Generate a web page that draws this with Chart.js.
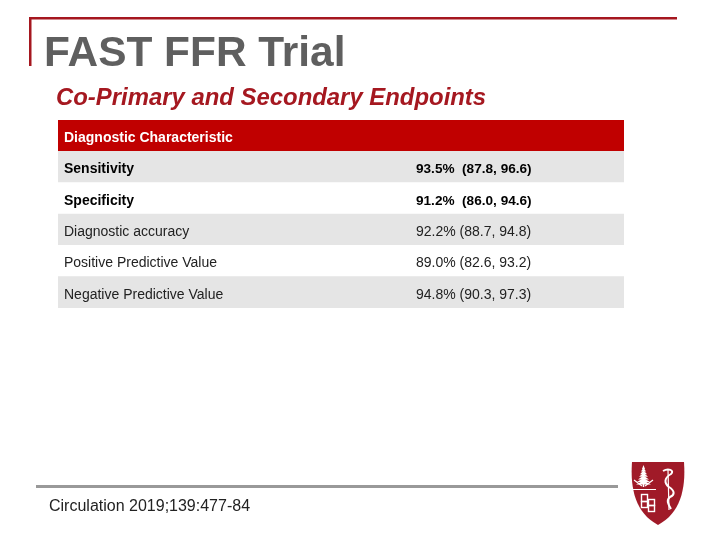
<!DOCTYPE html>
<html><head><meta charset="utf-8">
<style>html,body{margin:0;padding:0;background:#fff}canvas{display:block}</style>
<script src="https://cdn.jsdelivr.net/npm/chart.js@4"></script>
</head><body><canvas id="c" width="720" height="540"></canvas>
<script>
const titleText = "FAST FFR Trial";
const subtitleText = "Co-Primary and Secondary Endpoints";
const citationText = "Circulation 2019;139:477-84";
const rowLabels = ["Diagnostic Characteristic","Sensitivity","Specificity","Diagnostic accuracy","Positive Predictive Value","Negative Predictive Value"];
const rowResults = ["","93.5%  (87.8, 96.6)","91.2%  (86.0, 94.6)","92.2% (88.7, 94.8)","89.0% (82.6, 93.2)","94.8% (90.3, 97.3)"];
const rowBands = [1,1,1,1,1,1];
const bandColors = ["#c00000","#e5e5e5","#ffffff","#e5e5e5","#ffffff","#e5e5e5"];
const boldRows = [true,true,true,false,false,false];
const labelColors = ["#ffffff","#000000","#000000","#222222","#222222","#222222"];
const FONT = '"Liberation Sans", Arial, sans-serif';

function drawLogo(ctx){
  ctx.save();
  ctx.fillStyle="#a01a28";
  ctx.beginPath();
  ctx.moveTo(632,462);ctx.lineTo(684,462);
  ctx.bezierCurveTo(686,490,680,513,658,525);
  ctx.bezierCurveTo(636,513,630,490,632,462);
  ctx.fill();
  ctx.strokeStyle="#fff";ctx.fillStyle="#fff";
  // tree
  ctx.lineWidth=1;
  for(let i=0;i<7;i++){
    const y=467+i*2.6, w=1.5+i*1.0;
    ctx.beginPath();ctx.moveTo(643.5,y-2);ctx.lineTo(643.5+w,y+2);ctx.lineTo(643.5-w,y+2);ctx.closePath();ctx.fill();
  }
  ctx.lineWidth=1.5;
  ctx.beginPath();ctx.moveTo(643.5,484);ctx.lineTo(643.5,487);ctx.stroke();
  ctx.lineWidth=1.2;
  ctx.beginPath();ctx.moveTo(634,480);ctx.lineTo(642,486);ctx.moveTo(653,480);ctx.lineTo(645,486);ctx.stroke();
  // divider
  ctx.lineWidth=1;
  ctx.beginPath();ctx.moveTo(632,489.5);ctx.lineTo(656,489.5);ctx.stroke();
  // book block
  ctx.lineWidth=1.4;
  ctx.strokeRect(641.5,494.5,6,7);
  ctx.strokeRect(641.5,501.5,6,6);
  ctx.strokeRect(648.5,499.5,6,6);
  ctx.strokeRect(648.5,505.5,6,6);
  // staff and serpent
  ctx.lineWidth=2;
  ctx.beginPath();ctx.moveTo(663,471);ctx.bezierCurveTo(668,468,675,470,671,474);
  ctx.bezierCurveTo(664,478,664,483,669,487);ctx.bezierCurveTo(675,491,675,495,670,497);
  ctx.bezierCurveTo(666,500,668,504,671,509);ctx.stroke();
  ctx.lineWidth=1.2;
  ctx.beginPath();ctx.moveTo(668,470);ctx.lineTo(669,510);ctx.stroke();
  ctx.restore();
}

const slidePlugin = {
  id:"slide",
  beforeDraw(chart){
    const ctx=chart.ctx;
    ctx.save();
    ctx.fillStyle="#fff";ctx.fillRect(0,0,720,540);
    ctx.fillStyle="#a5171f";
    ctx.fillRect(30,17,647,2.5);
    ctx.fillRect(29,17,2.5,49);
    ctx.textBaseline="alphabetic";ctx.textAlign="left";
    ctx.fillStyle="#5f5f5f";ctx.font="bold 42.4px "+FONT;
    ctx.fillText(titleText,44,66);
    ctx.fillStyle="#a51820";ctx.font="italic bold 23.9px "+FONT;
    ctx.fillText(subtitleText,56,105);
    ctx.fillStyle="#999999";ctx.fillRect(36,485,582,3);
    ctx.fillStyle="#222";ctx.font="16px "+FONT;
    ctx.fillText(citationText,49,511);
    drawLogo(ctx);
    ctx.restore();
  },
  afterDraw(chart){
    const ctx=chart.ctx, y=chart.scales.y;
    ctx.save();
    ctx.textBaseline="middle";ctx.textAlign="left";
    rowResults.forEach((t,i)=>{
      ctx.fillStyle=labelColors[i];
      ctx.font=(boldRows[i]?"bold 13.6px ":"14px ")+FONT;
      ctx.fillText(t,416,y.getPixelForValue(i)+2.5);
    });
    ctx.restore();
  }
};

new Chart(document.getElementById("c"),{
  type:"bar",
  data:{labels:rowLabels,datasets:[{data:rowBands,backgroundColor:bandColors,borderWidth:0,barPercentage:1,categoryPercentage:1}]},
  plugins:[slidePlugin],
  options:{
    indexAxis:"y",responsive:false,animation:false,devicePixelRatio:1,
    layout:{padding:{left:58,right:96,top:120,bottom:232}},
    plugins:{legend:{display:false},tooltip:{enabled:false},title:{display:false}},
    scales:{
      x:{display:false,min:0,max:1},
      y:{
        afterFit:s=>{s.width=0;},
        grid:{display:false},border:{display:false},
        ticks:{mirror:true,z:1,padding:6,labelOffset:2.5,autoSkip:false,
          color:c=>labelColors[c.index],
          font:c=>({family:FONT,size:14,weight:boldRows[c.index]?"bold":"normal"})}
      }
    }
  }
});
</script></body></html>
